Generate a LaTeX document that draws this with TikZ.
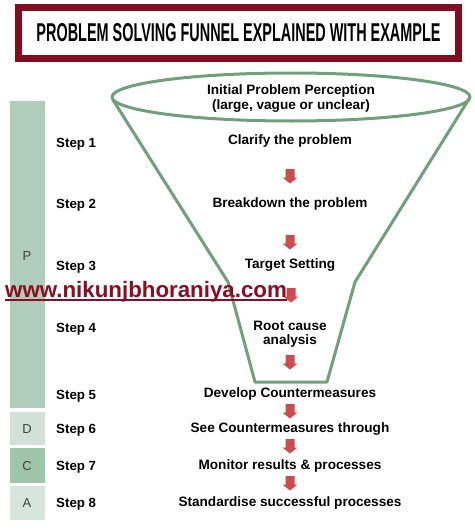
\documentclass[tikz,border=0pt]{standalone}
\usepackage{fontspec}
\usepackage{graphicx}
\setmainfont{Liberation Sans}
\definecolor{framered}{RGB}{130,12,32}
\definecolor{fgreen}{RGB}{112,160,122}
\definecolor{pbar}{RGB}{176,204,186}
\definecolor{dbar}{RGB}{208,226,216}
\definecolor{cbar}{RGB}{160,198,170}
\definecolor{abar}{RGB}{214,230,220}
\definecolor{arrred}{RGB}{205,75,75}
\definecolor{wmred}{RGB}{140,12,34}
\begin{document}
\begin{tikzpicture}[x=1pt,y=-1pt,
  stxt/.style={font=\fontsize{13.6}{15}\selectfont\bfseries, anchor=base, inner sep=0pt},
  steplbl/.style={font=\fontsize{13.3}{15}\selectfont\bfseries, anchor=base west, inner sep=0pt},
  phase/.style={font=\fontsize{13}{15}\selectfont, text=black!75, anchor=base, inner sep=0pt},
  funnel/.style={draw=fgreen, line width=3pt, line join=round},
  downarrow/.pic={\fill[arrred] (-4.5,-7) -- (4.5,-7) -- (4.5,1.5) -- (7.5,1.5) -- (0,7.5)
     -- (-7.5,1.5) -- (-4.5,1.5) -- cycle;}]
\useasboundingbox (0,0) rectangle (474,530);
\fill[white] (0,0) rectangle (474,530);

% title
\node[draw=framered, line width=6.5pt, minimum width=440pt, minimum height=51pt, inner sep=0pt]
  (title) at (238.5,33) {\resizebox{404pt}{18pt}{\bfseries PROBLEM SOLVING FUNNEL EXPLAINED WITH EXAMPLE}};

% phase bars
\fill[pbar] (10,101) rectangle (45,408);
\fill[dbar] (10,412) rectangle (45,445);
\fill[cbar] (10,448) rectangle (45,483);
\fill[abar] (10,486) rectangle (45,520);
\node[phase] (P) at (27,260) {P};
\node[phase] (D) at (27,433) {D};
\node[phase] (C) at (27,470) {C};
\node[phase] (A) at (27,507) {A};

% funnel
\draw[funnel] (291,97) ellipse [x radius=179, y radius=24];
\draw[funnel] (113,100) -- (228,282) -- (255,382) -- (327,382) -- (355,282) -- (469,99);

% step labels
\node[steplbl] (s1) at (56,147) {Step 1};
\node[steplbl] (s2) at (56,208) {Step 2};
\node[steplbl] (s3) at (56,270) {Step 3};
\node[steplbl] (s4) at (56,332) {Step 4};
\node[steplbl] (s5) at (56,399) {Step 5};
\node[steplbl] (s6) at (56,433) {Step 6};
\node[steplbl] (s7) at (56,470) {Step 7};
\node[steplbl] (s8) at (56,507) {Step 8};

% centre texts
\node[stxt] (t0a) at (291,94) {Initial Problem Perception};
\node[stxt] (t0b) at (291,109) {(large, vague or unclear)};
\node[stxt] (t1) at (290,144) {Clarify the problem};
\node[stxt] (t2) at (290,207) {Breakdown the problem};
\node[stxt] (t3) at (290,268) {Target Setting};
\node[stxt] (t4a) at (290,330) {Root cause};
\node[stxt] (t4b) at (290,344) {analysis};
\node[stxt] (t5) at (290,397) {Develop Countermeasures};
\node[stxt] (t6) at (290,432) {See Countermeasures through};
\node[stxt] (t7) at (290,469) {Monitor results \& processes};
\node[stxt] (t8) at (290,506) {Standardise successful processes};

% arrows
\pic (a1) at (290,176) {downarrow};
\pic (a2) at (290,242) {downarrow};
\pic (a3) at (291,295) {downarrow};
\pic (a4) at (290,362) {downarrow};
\pic (a5) at (290,411) {downarrow};
\pic (a6) at (290,446) {downarrow};
\pic (a7) at (290,483) {downarrow};

% watermark
\node[font=\fontsize{22.3}{24}\selectfont\bfseries, text=wmred, anchor=base west, inner sep=0pt]
  (wm) at (5,297) {www.nikunjbhoraniya.com};
\draw[wmred, line width=1.6pt] ([yshift=-3pt]wm.base west) -- ([yshift=-3pt]wm.base east);
\end{tikzpicture}
\end{document}
